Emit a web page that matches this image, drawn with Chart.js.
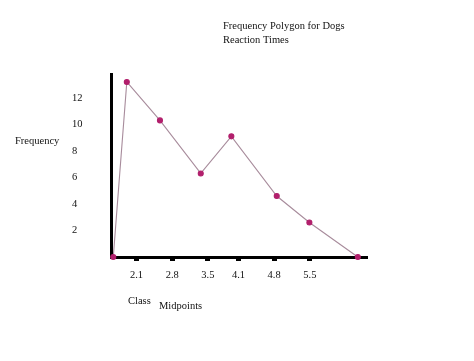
<!DOCTYPE html>
<html>
<head>
<meta charset="utf-8">
<script src="https://cdn.jsdelivr.net/npm/chart.js@4/dist/chart.umd.min.js"></script>
<style>
  html, body { margin: 0; padding: 0; background: #fff; }
  #wrap { width: 474px; height: 361px; }
</style>
</head>
<body>
<div id="wrap"><canvas id="polygonChart" width="474" height="361"></canvas></div>
<script>
// class midpoints (x) and frequencies (y)
const midpoints = [1.645, 1.91, 2.56, 3.36, 3.96, 4.85, 5.49, 6.44];
const frequencies = [0, 13.2, 10.3, 6.3, 9.1, 4.6, 2.6, 0];

// tick labels
const xTickValues = [2.1, 2.8, 3.5, 4.1, 4.8, 5.5];
const yTickValues = [2, 4, 6, 8, 10, 12];

const titleLines = ['Frequency Polygon for Dogs', 'Reaction Times'];
const serif = '"Liberation Serif", "DejaVu Serif", serif';

// loose text labels drawn on the canvas (title, axis names)
const textLabels = {
  id: 'textLabels',
  afterDraw(chart) {
    const c = chart.ctx;
    c.save();
    c.fillStyle = '#111';
    c.font = '10.5px ' + serif;
    c.textBaseline = 'middle';
    c.textAlign = 'left';
    c.fillText(titleLines[0], 223, 26);
    c.fillText(titleLines[1], 223, 40);
    c.fillText('Frequency', 15, 141);
    c.fillText('Class', 128, 301);
    c.fillText('Midpoints', 159, 306);
    c.restore();
  }
};

new Chart(document.getElementById('polygonChart'), {
  type: 'line',
  data: {
    datasets: [{
      data: midpoints.map((m, i) => ({ x: m, y: frequencies[i] })),
      borderColor: '#a88c9c',
      borderWidth: 1.1,
      pointBackgroundColor: '#b21f6c',
      pointBorderColor: '#b21f6c',
      pointRadius: 2.5,
      tension: 0,
      clip: false
    }]
  },
  options: {
    responsive: false,
    animation: false,
    layout: { padding: { left: 72, right: 107, top: 74, bottom: 74 } },
    plugins: {
      legend: { display: false },
      title: { display: false },
      tooltip: { enabled: false }
    },
    scales: {
      x: {
        type: 'linear',
        min: 1.6,
        max: 6.62,
        afterBuildTicks: (scale) => { scale.ticks = xTickValues.map(v => ({ value: v })); },
        afterFit: (scale) => { scale.height = 30; },
        ticks: {
          autoSkip: false,
          maxRotation: 0,
          padding: 8,
          color: '#111',
          font: { family: serif, size: 10.5 },
          callback: (v) => v.toFixed(1)
        },
        grid: {
          drawOnChartArea: false,
          drawTicks: true,
          tickLength: 4,
          tickWidth: 5,
          tickColor: '#000'
        },
        border: { color: '#000', width: 3 }
      },
      y: {
        min: 0,
        max: 13.8,
        afterBuildTicks: (scale) => { scale.ticks = yTickValues.map(v => ({ value: v })); },
        afterFit: (scale) => { scale.width = 39; },
        ticks: {
          autoSkip: false,
          crossAlign: 'far',
          color: '#111',
          font: { family: serif, size: 10.5 },
          callback: (v) => String(v)
        },
        grid: { drawOnChartArea: false, drawTicks: false },
        border: { color: '#000', width: 3 }
      }
    }
  },
  plugins: [textLabels]
});
</script>
</body>
</html>
